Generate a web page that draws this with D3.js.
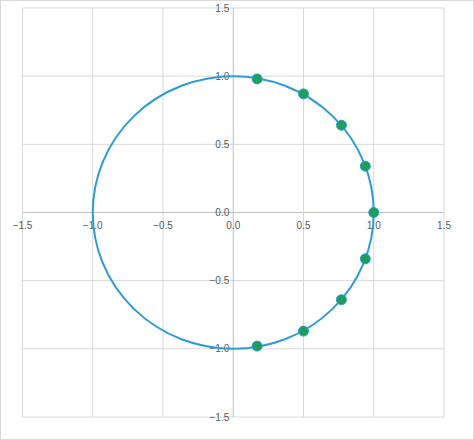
<!DOCTYPE html>
<html><head><meta charset="utf-8">
<script src="https://cdn.jsdelivr.net/npm/d3@7"></script>
<style>body{margin:0;background:#fff}svg{display:block}text{font-family:"Liberation Sans",Arial,sans-serif;font-size:10px;fill:#595959}</style>
</head><body>
<svg id="c" width="474" height="440"></svg>
<script>
const tickValues = [-1.5,-1.0,-0.5,0.0,0.5,1.0,1.5];
const pointX = [0.17,0.50,0.77,0.94,1.00,0.94,0.77,0.50,0.17];
const pointY = [0.98,0.87,0.64,0.34,0.00,-0.34,-0.64,-0.87,-0.98];
const circleCenter = [0,0];
const circleRadius = [1];

const svg = d3.select("#c");
svg.append("rect").attr("x",0.5).attr("y",0.5).attr("width",473).attr("height",439)
  .attr("fill","#fff").attr("stroke","#d9d9d9");
const x = d3.scaleLinear().domain([-1.5,1.5]).range([22.5,444]);
const y = d3.scaleLinear().domain([-1.5,1.5]).range([417,8]);

const g = svg.append("g");
tickValues.forEach(v=>{
  g.append("line").attr("x1",x(v)).attr("x2",x(v)).attr("y1",y(-1.5)).attr("y2",y(1.5)).attr("stroke",v===0?"#bfbfbf":"#d9d9d9");
  g.append("line").attr("y1",y(v)).attr("y2",y(v)).attr("x1",x(-1.5)).attr("x2",x(1.5)).attr("stroke",v===0?"#bfbfbf":"#d9d9d9");
});
tickValues.forEach(v=>{
  g.append("text").attr("x",x(v)).attr("y",y(0)+16).attr("text-anchor","middle").text(d3.format(".1f")(v));
  g.append("text").attr("x",x(0)-4).attr("y",y(v)+3.5).attr("text-anchor","end").text(d3.format(".1f")(v));
});
g.append("circle").attr("cx",x(circleCenter[0])).attr("cy",y(circleCenter[1]))
  .attr("rx",0).attr("r",x(circleRadius[0])-x(0))
  .attr("fill","none").attr("stroke","#2e9bd6").attr("stroke-width",2)
  .attr("transform",`translate(${x(0)},${y(0)}) scale(1,${(y(0)-y(1))/(x(1)-x(0))}) translate(${-x(0)},${-y(0)})`);
g.selectAll(".p").data(pointX.map((v,i)=>[v,pointY[i]])).enter().append("circle")
  .attr("cx",d=>x(d[0])).attr("cy",d=>y(d[1])).attr("r",5)
  .attr("fill","#1e9e5a").attr("stroke","#2e9bd6").attr("stroke-width",1);
</script></body></html>
